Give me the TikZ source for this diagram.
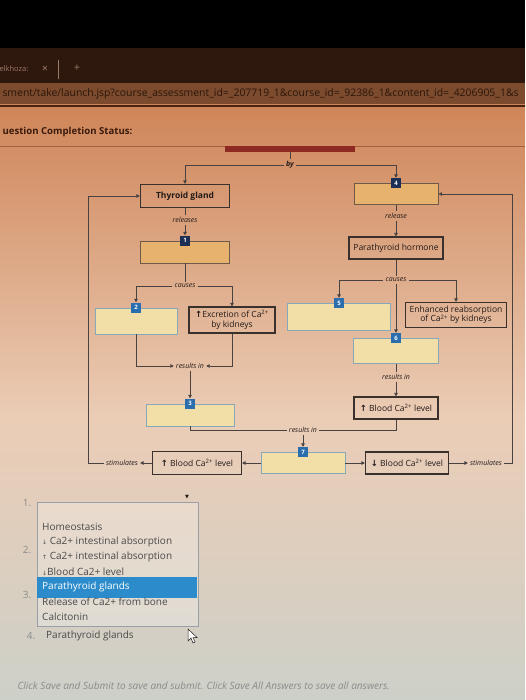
\documentclass[tikz,border=0pt]{standalone}
\usepackage{fontspec}
\setmainfont{Open Sans}
\newfontfamily\symfont{DejaVu Sans}
\usetikzlibrary{positioning, arrows.meta}

\definecolor{tabbar}{HTML}{2E170C}
\definecolor{urlbar}{HTML}{7C4A2C}
\definecolor{darkline}{HTML}{4A2412}
\definecolor{rule}{HTML}{A85C38}
\definecolor{pagetop}{HTML}{CF8558}
\definecolor{pagemid}{HTML}{EBCDB6}
\definecolor{pagebot}{HTML}{CDD0C8}
\definecolor{ink}{HTML}{221A18}
\definecolor{boxline}{HTML}{3A302C}
\definecolor{linkgray}{HTML}{4A4240}
\definecolor{ansfill}{HTML}{F2DFA8}
\definecolor{ansline}{HTML}{86A8B8}
\definecolor{ansfilltop}{HTML}{E6B26E}
\definecolor{anslinetop}{HTML}{6E5A48}
\definecolor{badgeblue}{HTML}{2A6EAE}
\definecolor{badgenavy}{HTML}{1C2F55}
\definecolor{barred}{HTML}{8E2A22}
\definecolor{itemgray}{HTML}{4A4A4A}
\definecolor{hilite}{HTML}{2B8BCB}
\definecolor{listline}{HTML}{9AA0A8}
\definecolor{hintgray}{HTML}{8A8C8C}
\definecolor{titletext}{HTML}{3A1A0C}
\definecolor{urltext}{HTML}{2A160C}
\definecolor{tabtext}{HTML}{9C7A68}

\newcommand{\arrup}{{\symfont\bfseries ↑}}
\newcommand{\arrdn}{{\symfont\bfseries ↓}}
\newcommand{\listup}{{\fontsize{6}{6}\symfont ↑}}
\newcommand{\listdn}{{\fontsize{6}{6}\symfont ↓}}
\newcommand{\caion}{Ca\textsuperscript{2+}}

\begin{document}
\begin{tikzpicture}[
		x=1pt, y=-1pt,
		font=\fontsize{8.5}{9.5}\selectfont,
		txtbox/.style={draw=boxline, line width=1.1pt, text=ink, align=center, inner sep=2pt},
		ansbox/.style={draw=ansline, line width=0.9pt, fill=ansfill},
		topans/.style={ansbox, draw=anslinetop, fill=ansfilltop},
		badge/.style={fill=badgeblue, text=white, font=\fontsize{6}{6}\selectfont\bfseries, minimum size=10pt, inner sep=0pt},
		lbl/.style={font=\fontsize{7}{8}\selectfont\itshape, text=ink, inner sep=2pt},
		link/.style={draw=linkgray, line width=0.8pt},
		arr/.style={link, -{Triangle[length=3.5pt,width=3.5pt]}},
		item/.style={anchor=west, font=\fontsize{10}{11}\selectfont, inner sep=0pt}
	]
	\useasboundingbox (0,0) rectangle (525,700);

	% Screen and browser bars
	\fill[black] (0,0) rectangle (525,48);
	\fill[tabbar] (0,48) rectangle (525,83);
	\fill[urlbar] (0,83) rectangle (525,105);
	\shade[top color=pagetop, bottom color=pagemid] (0,105) rectangle (525,420);
	\shade[top color=pagemid, bottom color=pagebot] (0,420) rectangle (525,700);
	\draw[darkline, line width=1.5pt] (0,106) -- (525,106);
	\draw[rule, line width=1pt] (0,147) -- (525,147);

	\node[anchor=west, text=tabtext, font=\fontsize{7.5}{8}\selectfont] (tab) at (-4,69) {elkhoza:};
	\node[text=tabtext, font=\fontsize{8}{8}\selectfont\symfont\bfseries] (tabx) at (45,69) {✕};
	\draw[tabtext] (58,60) -- (58,79);
	\node[text=tabtext, font=\fontsize{11}{11}\selectfont] (tabplus) at (77,68) {+};
	\node[anchor=west, text=urltext, font=\fontsize{10.4}{11}\selectfont] (url) at (-1,94)
		{sment/take/launch.jsp?course\_assessment\_id=\_207719\_1\&course\_id=\_92386\_1\&content\_id=\_4206905\_1\&s};
	\node[anchor=west, text=titletext, font=\fontsize{9.6}{10}\selectfont\bfseries] (status) at (-1,132) {uestion Completion Status:};

	% Top of the diagram
	\node[fill=barred, minimum width=130pt, minimum height=6pt, inner sep=0pt] (top) at (290,149) {};
	\node[lbl, font=\fontsize{7}{8}\selectfont\bfseries\itshape] (by) at (290,165) {by};

	% Left branch
	\node[txtbox, minimum width=89pt, minimum height=23pt, font=\fontsize{8.5}{9.5}\selectfont\bfseries] (thy) at (185,196) {Thyroid gland};
	\node[lbl] (rel1) at (185,220) {releases};
	\node[topans, minimum width=89pt, minimum height=22pt] (a1) at (185,252) {};
	\node[badge, fill=badgenavy] (b1) at (a1.north) {1};
	\node[lbl] (cs1) at (185,286) {causes};
	\node[ansbox, minimum width=82pt, minimum height=26pt] (a2) at (136,321) {};
	\node[badge] (b2) at (a2.north) {2};
	\node[txtbox, minimum width=86pt, minimum height=26pt] (exc) at (232,320) {\arrup Excretion of \caion\\by kidneys};
	\node[lbl] (res1) at (190,366) {results in};
	\node[ansbox, minimum width=88pt, minimum height=22pt] (a3) at (190,415) {};
	\node[badge] (b3) at (a3.north) {3};

	% Right branch
	\node[topans, minimum width=84pt, minimum height=21pt] (a4) at (396,194) {};
	\node[badge, fill=badgenavy] (b4) at (a4.north) {4};
	\node[lbl] (rel2) at (396,216) {release};
	\node[txtbox, minimum width=94pt, minimum height=22pt] (pth) at (396,248) {Parathyroid hormone};
	\node[lbl] (cs2) at (396,280) {causes};
	\node[ansbox, minimum width=103pt, minimum height=27pt] (a5) at (339,317) {};
	\node[badge] (b5) at (a5.north) {5};
	\node[txtbox, minimum width=101pt, minimum height=25pt] (enh) at (456,315) {Enhanced reabsorption\\of \caion\ by kidneys};
	\node[ansbox, minimum width=85pt, minimum height=25pt] (a6) at (396,351) {};
	\node[badge] (b6) at (a6.north) {6};
	\node[lbl] (res2) at (396,377) {results in};
	\node[txtbox, minimum width=84pt, minimum height=22pt] (bupR) at (396,408) {\arrup\ Blood \caion\ level};

	% Bottom row
	\node[lbl] (res3) at (303,430) {results in};
	\node[ansbox, minimum width=84pt, minimum height=21pt] (a7) at (303,463) {};
	\node[badge] (b7) at (a7.north) {7};
	\node[txtbox, minimum width=83pt, minimum height=22pt] (bdn) at (407,463) {\arrdn\ Blood \caion\ level};
	\node[txtbox, minimum width=89pt, minimum height=23pt] (bupL) at (197,463) {\arrup\ Blood \caion\ level};
	\node[lbl] (stimL) at (122,463) {stimulates};
	\node[lbl] (stimR) at (486,463) {stimulates};
	\coordinate (lc) at (88,196);
	\coordinate (rc) at (512,194);

	% Connectors
	\draw[link] (top) -- (by);
	\draw[arr] (by) -| (thy);
	\draw[arr] (by) -| (b4);
	\draw[link] (thy) -- (rel1);
	\draw[arr] (rel1) -- (b1);
	\draw[link] (a1) -- (cs1);
	\draw[arr] (cs1) -| (b2);
	\draw[arr] (cs1) -| (exc);
	\draw[arr] (a2) |- (res1);
	\draw[arr] (exc) |- (res1);
	\draw[arr] (res1) -- (b3);
	\draw[link] (a4) -- (rel2);
	\draw[arr] (rel2) -- (pth);
	\draw[link] (pth) -- (cs2);
	\draw[arr] (cs2) -| (b5);
	\draw[arr] (cs2) -| (enh);
	\draw[arr] (cs2) -- (b6);
	\draw[link] (a6) -- (res2);
	\draw[arr] (res2) -- (bupR);
	\draw[link] (a3) |- (res3);
	\draw[link] (bupR) |- (res3);
	\draw[arr] (res3) -- (b7);
	\draw[arr] (a7) -- (bdn);
	\draw[arr] (a7) -- (bupL);
	\draw[arr] (bupL) -- (stimL);
	\draw[arr] (bdn) -- (stimR);
	\draw[arr] (stimL) -| (lc) -- (thy);
	\draw[arr] (stimR) -| (rc) -- (a4);

	% Answer list
	\node[text=hintgray, font=\fontsize{10}{11}\selectfont] (n1) at (27,503) {1.};
	\node[text=ink, font=\fontsize{5}{5}\selectfont\symfont] (drop) at (187,497) {▼};
	\node[draw=listline, fill=white, fill opacity=0.25, minimum width=161pt, minimum height=124pt, inner sep=0pt] (list) at (117.5,564) {};
	\node[fill=hilite, minimum width=160pt, minimum height=21pt, inner sep=0pt] (hl) at (117,587) {};
	\foreach \txt/\col [count=\i] in {Homeostasis/itemgray, \listdn\ Ca2+ intestinal absorption/itemgray,
			\listup\ Ca2+ intestinal absorption/itemgray, \listdn Blood Ca2+ level/itemgray,
			Parathyroid glands/white, Release of Ca2+ from bone/itemgray, Calcitonin/itemgray}
		\node[item, text=\col] (opt\i) at (42,512+15*\i) {\txt};
	\node[text=hintgray, font=\fontsize{10}{11}\selectfont] (n2) at (27,550) {2.};
	\node[text=hintgray, font=\fontsize{10}{11}\selectfont] (n3) at (27,595) {3.};
	\node[text=hintgray, font=\fontsize{10}{11}\selectfont] (n4) at (31,636) {4.};
	\node[item, text=itemgray] (ans4) at (46,636) {Parathyroid glands};
	\draw[fill=white, draw=ink, line width=0.5pt, shift={(188,629)}]
		(0,0) -- (0,12) -- (3,9) -- (5,14) -- (7,13) -- (5,8.5) -- (9,8.5) -- cycle;

	\node[anchor=west, text=hintgray, font=\fontsize{10}{11}\selectfont\itshape] (hint) at (14,686)
		{Click Save and Submit to save and submit. Click Save All Answers to save all answers.};
\end{tikzpicture}
\end{document}
